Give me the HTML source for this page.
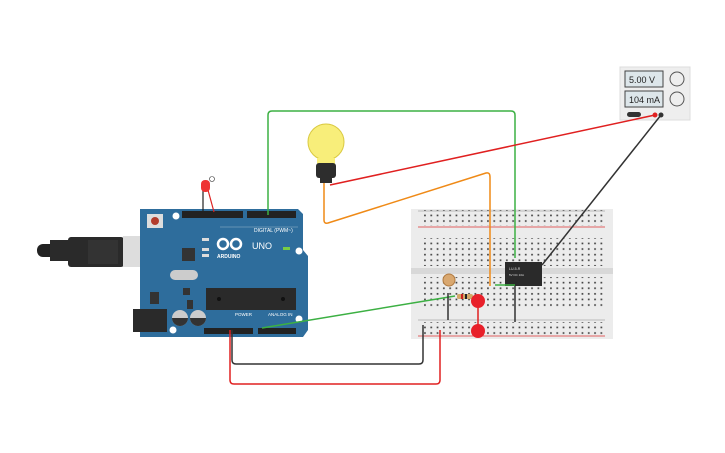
<!DOCTYPE html>
<html><head><meta charset="utf-8"><style>
html,body{margin:0;padding:0;background:#fff;}
svg{display:block;font-family:"Liberation Sans",sans-serif;}
</style></head><body>
<svg width="725" height="453" viewBox="0 0 725 453" xmlns="http://www.w3.org/2000/svg">
<defs>
<pattern id="dots" x="0" y="0" width="6.3" height="5.6" patternUnits="userSpaceOnUse">
<rect x="2" y="1.8" width="1.7" height="1.7" fill="#444"/>
</pattern>
</defs>
<!-- USB cable -->
<rect x="37" y="244" width="32" height="13" rx="6" fill="#222"/>
<rect x="50" y="240" width="20" height="21" fill="#2a2a2a"/>
<rect x="68" y="237" width="56" height="30" rx="3" fill="#2a2a2a"/>
<rect x="88" y="240" width="30" height="24" fill="#333"/>
<rect x="123" y="236" width="42" height="31" fill="#ddd"/>
<!-- Arduino board -->
<path d="M140 209 H298 L303 214 V250 L308 256 V330 L303 337 H140 Z" fill="#2e6d9c"/>
<circle cx="176" cy="216" r="3.5" fill="#fff"/><circle cx="299" cy="251" r="3.5" fill="#fff"/>
<circle cx="299" cy="319" r="3.5" fill="#fff"/><circle cx="173" cy="330" r="3.5" fill="#fff"/>
<rect x="147" y="214" width="16" height="14" fill="#ddd"/><circle cx="155" cy="221" r="4" fill="#b23b2b"/>
<rect x="182" y="211" width="61" height="7" fill="#222"/>
<rect x="247" y="211" width="49" height="7" fill="#222"/>
<text x="254" y="232" font-size="5" fill="#fff">DIGITAL (PWM~)</text>
<line x1="220" y1="227" x2="298" y2="227" stroke="#9bc" stroke-width="0.6"/>
<rect x="202" y="238" width="7" height="3" fill="#ddd"/><rect x="202" y="248" width="7" height="3" fill="#ddd"/><rect x="202" y="254" width="7" height="3" fill="#ddd"/>
<circle cx="223" cy="244" r="5" fill="none" stroke="#fff" stroke-width="2.5"/>
<circle cx="236" cy="244" r="5" fill="none" stroke="#fff" stroke-width="2.5"/>
<text x="217" y="258" font-size="5" fill="#fff" font-weight="bold">ARDUINO</text>
<text x="252" y="249" font-size="9" fill="#fff">UNO</text>
<rect x="283" y="247" width="7" height="3" fill="#7c4"/>
<rect x="182" y="248" width="13" height="13" fill="#333"/>
<rect x="170" y="270" width="28" height="10" rx="5" fill="#ccc"/>
<rect x="183" y="288" width="7" height="7" fill="#333"/>
<rect x="150" y="292" width="9" height="12" fill="#333"/>
<rect x="187" y="300" width="6" height="9" fill="#333"/>
<rect x="206" y="288" width="90" height="22" fill="#2a2a2a"/>
<circle cx="219" cy="299" r="2" fill="#111"/><circle cx="283" cy="299" r="2" fill="#111"/>
<rect x="133" y="309" width="34" height="23" fill="#2a2a2a"/>
<circle cx="180" cy="318" r="8" fill="#ccc"/><path d="M172 318 A8 8 0 0 0 188 318Z" fill="#333"/>
<circle cx="198" cy="318" r="8" fill="#ccc"/><path d="M190 318 A8 8 0 0 0 206 318Z" fill="#333"/>
<text x="235" y="316" font-size="4.5" fill="#fff">POWER</text>
<text x="268" y="316" font-size="4.5" fill="#fff">ANALOG IN</text>
<rect x="204" y="328" width="49" height="6" fill="#222"/>
<rect x="258" y="328" width="38" height="6" fill="#222"/>
<!-- LED -->
<line x1="203" y1="190" x2="203" y2="212" stroke="#222" stroke-width="1.2"/>
<line x1="208" y1="190" x2="214" y2="212" stroke="#d22" stroke-width="1.2"/>
<rect x="201" y="180" width="9" height="12" rx="4" fill="#e33"/>
<circle cx="212" cy="179" r="2.5" fill="#fff" stroke="#333" stroke-width="0.6"/>
<!-- Bulb -->
<circle cx="326" cy="142" r="18" fill="#f8ee7a" stroke="#d9c940"/>
<rect x="317" y="158" width="18" height="8" fill="#f8ee7a"/>
<rect x="316" y="163" width="20" height="15" rx="3" fill="#2d2d2d"/>
<rect x="320" y="176" width="12" height="7" fill="#2d2d2d"/>
<!-- Breadboard -->
<rect x="411" y="209" width="202" height="130" fill="#ececec"/>
<rect x="411" y="268" width="202" height="6" fill="#d8d8d8"/>
<rect x="420" y="210" width="184" height="16" fill="url(#dots)"/>
<rect x="420" y="238" width="184" height="28" fill="url(#dots)"/>
<rect x="420" y="277" width="184" height="30" fill="url(#dots)"/>
<rect x="420" y="322" width="184" height="13" fill="url(#dots)"/>
<line x1="418" y1="211" x2="605" y2="211" stroke="#888" stroke-width="0.6"/>
<line x1="418" y1="227" x2="605" y2="227" stroke="#d33" stroke-width="0.7"/>
<line x1="418" y1="320" x2="605" y2="320" stroke="#888" stroke-width="0.6"/>
<line x1="418" y1="336" x2="605" y2="336" stroke="#d33" stroke-width="0.7"/>
<!-- Relay -->
<rect x="505" y="262" width="37" height="24" fill="#2a2a2a"/>
<text x="509" y="270" font-size="3.5" fill="#ddd">LU-5-R</text>
<text x="509" y="276" font-size="3" fill="#ddd">5V DC 10A</text>
<!-- LDR + resistor -->
<circle cx="449" cy="280" r="6" fill="#d9a870" stroke="#b07a40"/>
<rect x="457" y="294" width="16" height="5" rx="2" fill="#d4a868"/>
<rect x="461" y="294" width="2" height="5" fill="#c22"/><rect x="465" y="294" width="2" height="5" fill="#222"/>
<!-- Power supply -->
<rect x="620" y="67" width="70" height="53" fill="#eeeeee" stroke="#ddd"/>
<rect x="625" y="71" width="38" height="16" fill="#dde6ea" stroke="#444"/>
<text x="629" y="83" font-size="9" fill="#222">5.00 V</text>
<rect x="625" y="91" width="38" height="16" fill="#dde6ea" stroke="#444"/>
<text x="629" y="103" font-size="9" fill="#222">104 mA</text>
<circle cx="677" cy="79" r="7" fill="#eee" stroke="#555"/>
<circle cx="677" cy="99" r="7" fill="#eee" stroke="#555"/>
<rect x="627" y="112" width="14" height="5" rx="2.5" fill="#333"/>
<!-- Wires -->
<g fill="none" stroke-width="1.5" stroke-linejoin="round">
<path d="M268 215 V115 Q268 111 272 111 H511 Q515 111 515 115 V258" stroke="#3cb043"/>
<path d="M262 328 L455 296" stroke="#3cb043"/>
<path d="M495 285 H515" stroke="#3cb043"/>
<path d="M324 183 V220 Q324 224 328 223 L486 173 Q490 172 490 177 V286" stroke="#ef8a17"/>
<path d="M330 185 L655 115" stroke="#e02020"/>
<path d="M661 115 L542 265" stroke="#333"/>
<path d="M232 330 V360 Q232 364 236 364 H419 Q423 364 423 360 V325" stroke="#333"/>
<path d="M230 330 V380 Q230 384 234 384 H436 Q440 384 440 380 V330" stroke="#e02020"/>
<path d="M448 293 V320" stroke="#333"/>
<path d="M515 286 V322" stroke="#333"/>
<path d="M478 301 V331" stroke="#e02020"/>
</g>
<circle cx="655" cy="115" r="2.5" fill="#e02020"/><circle cx="661" cy="115" r="2.5" fill="#333"/>
<circle cx="478" cy="301" r="7" fill="#e8202a"/>
<circle cx="478" cy="331" r="7" fill="#e8202a"/>
</svg>
</body></html>
